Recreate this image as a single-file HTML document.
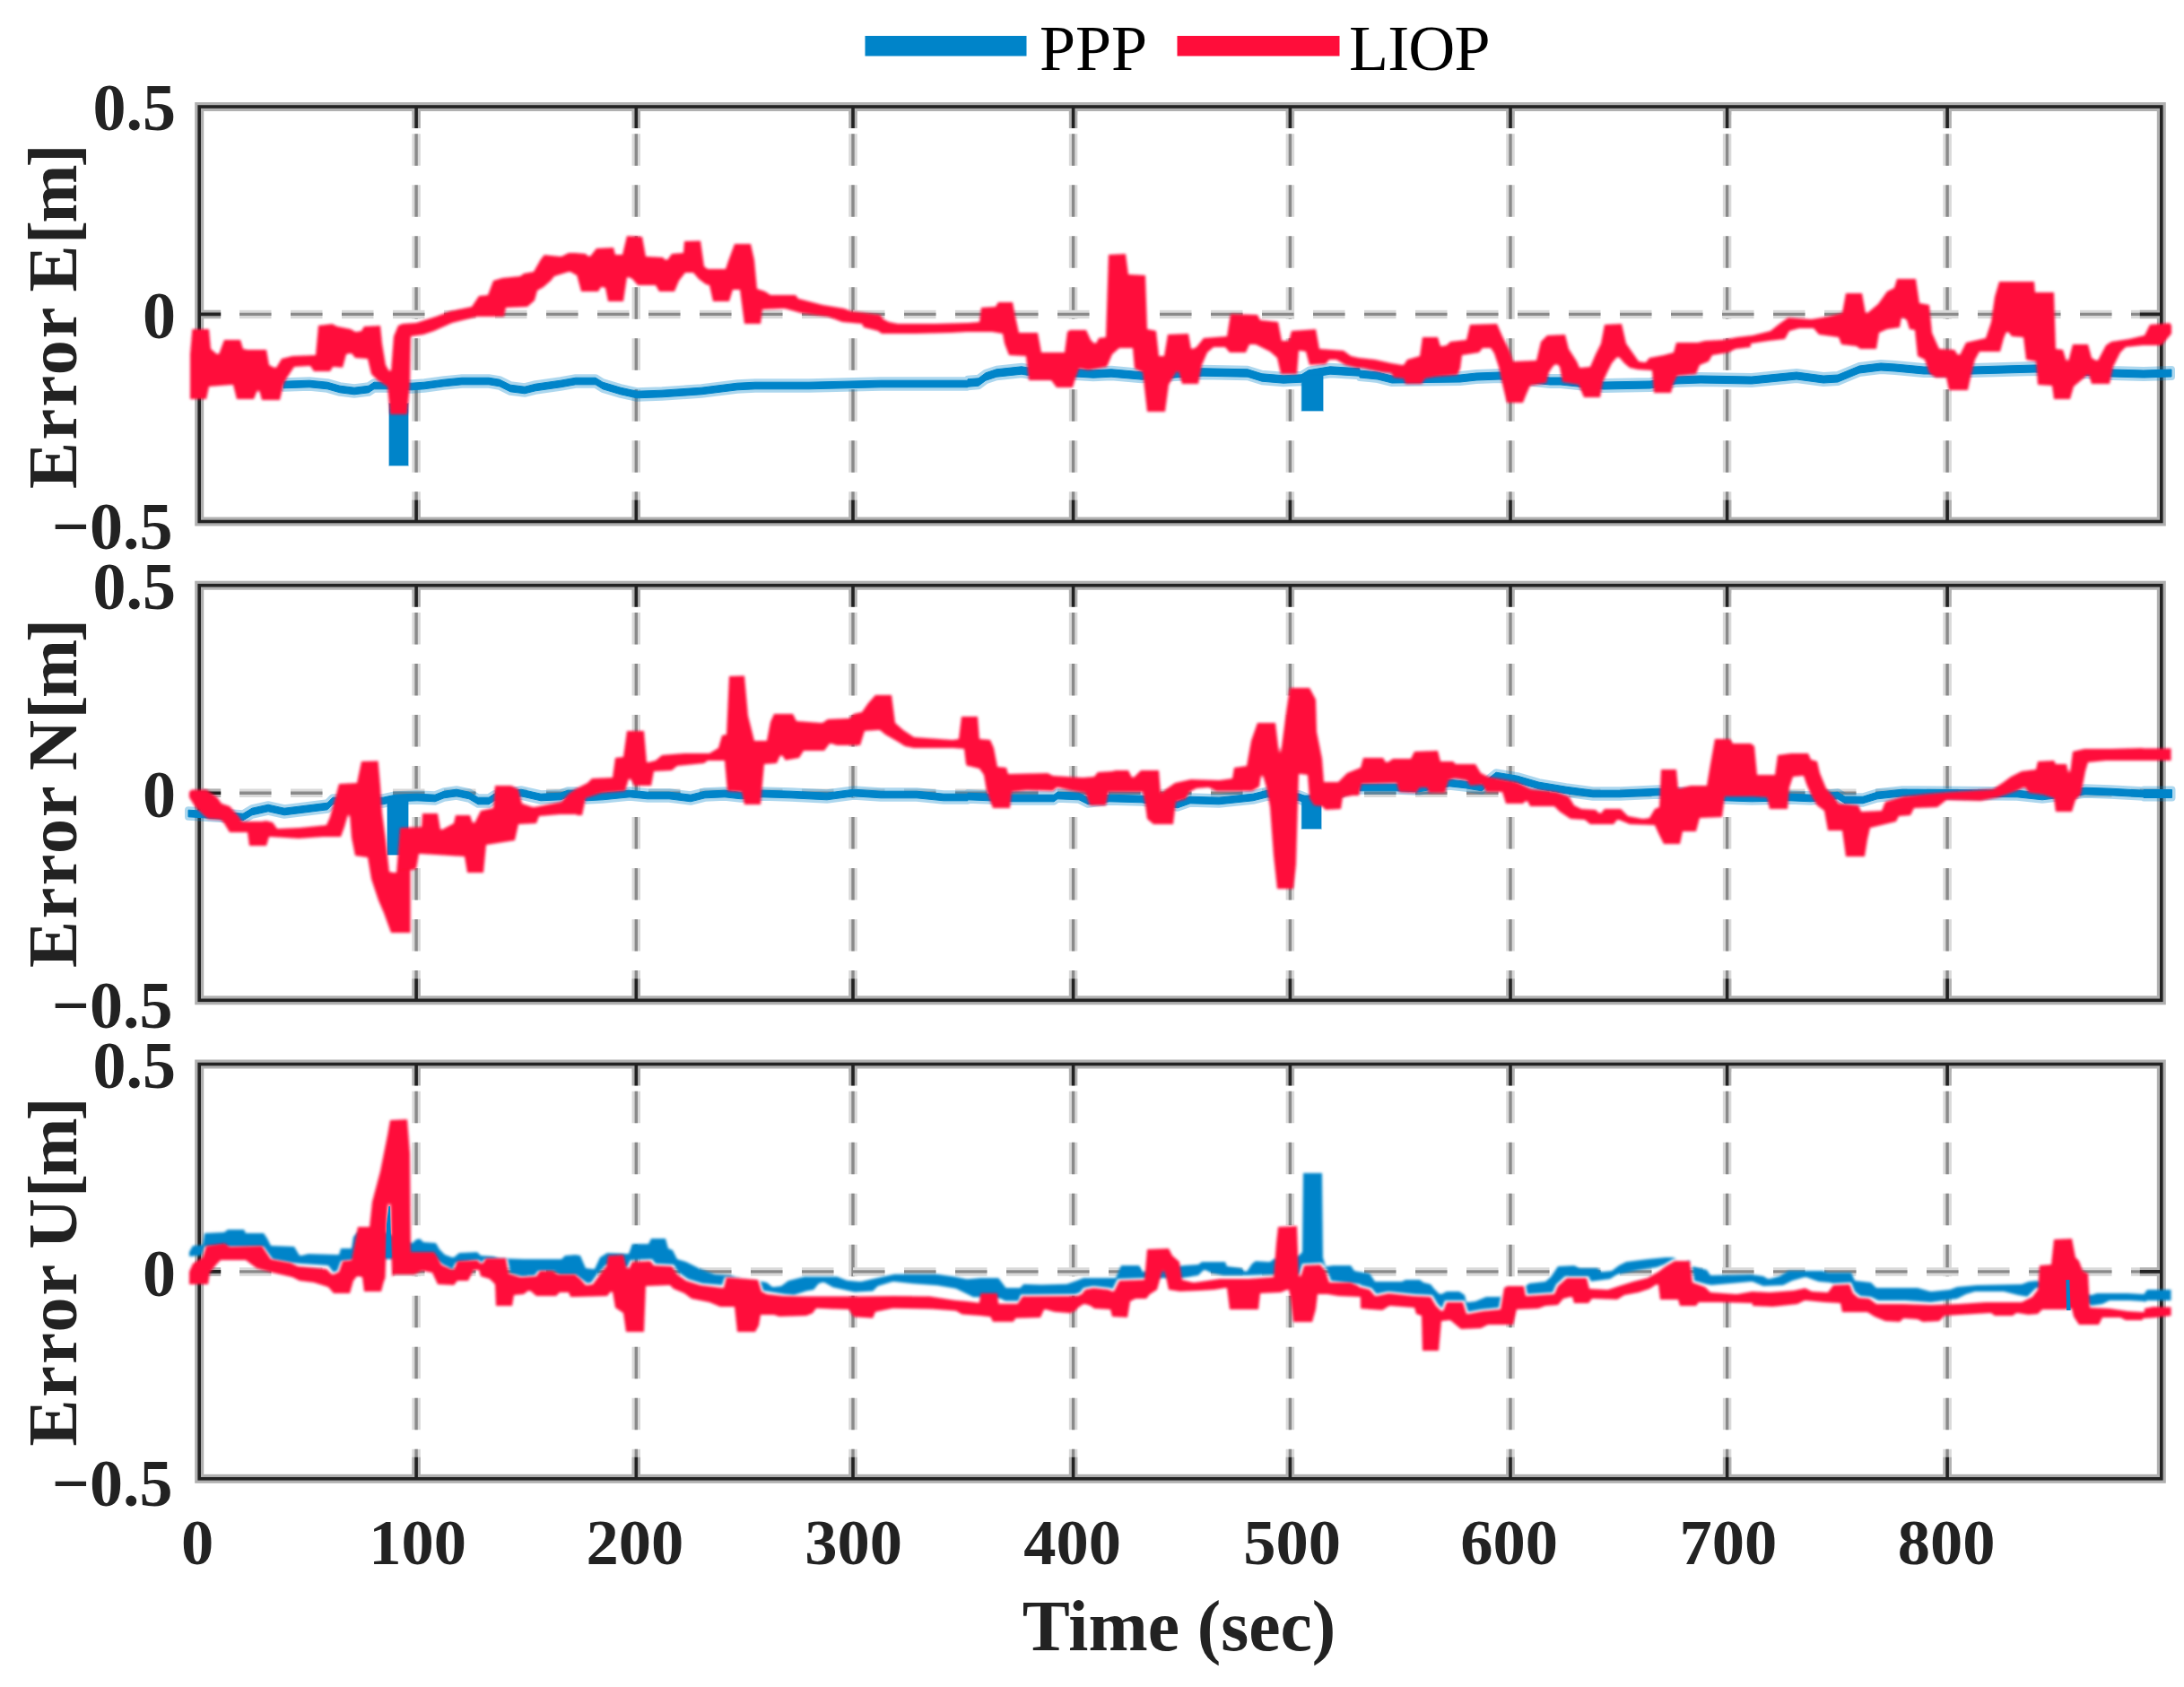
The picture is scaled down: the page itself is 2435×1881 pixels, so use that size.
<!DOCTYPE html>
<html lang="en"><head><meta charset="utf-8"><title>Position error: PPP vs LIOP</title>
<style>html,body{margin:0;padding:0;background:#fff}body{width:2435px;height:1881px;overflow:hidden}svg{display:block}text{font-family:"Liberation Serif",serif;fill:#222}.b{font-weight:bold}</style></head><body>
<svg width="2435" height="1881" viewBox="0 0 2435 1881">
<defs><filter id="soft" x="-2%" y="-10%" width="104%" height="120%"><feMorphology operator="erode" radius="1.4"/><feGaussianBlur stdDeviation="1.5"/></filter></defs>
<rect width="2435" height="1881" fill="#fff"/>
<g id="panel1">
<line x1="464.1" y1="119.0" x2="464.1" y2="581.5" stroke="#d9d9d9" stroke-width="9.5" stroke-dasharray="35.5 21.5" stroke-dashoffset="26.7"/><line x1="464.1" y1="119.0" x2="464.1" y2="581.5" stroke="#8a8a8a" stroke-width="3.4" stroke-dasharray="35.5 21.5" stroke-dashoffset="26.7"/>
<line x1="709.3" y1="119.0" x2="709.3" y2="581.5" stroke="#d9d9d9" stroke-width="9.5" stroke-dasharray="35.5 21.5" stroke-dashoffset="26.7"/><line x1="709.3" y1="119.0" x2="709.3" y2="581.5" stroke="#8a8a8a" stroke-width="3.4" stroke-dasharray="35.5 21.5" stroke-dashoffset="26.7"/>
<line x1="951.0" y1="119.0" x2="951.0" y2="581.5" stroke="#d9d9d9" stroke-width="9.5" stroke-dasharray="35.5 21.5" stroke-dashoffset="26.7"/><line x1="951.0" y1="119.0" x2="951.0" y2="581.5" stroke="#8a8a8a" stroke-width="3.4" stroke-dasharray="35.5 21.5" stroke-dashoffset="26.7"/>
<line x1="1196.6" y1="119.0" x2="1196.6" y2="581.5" stroke="#d9d9d9" stroke-width="9.5" stroke-dasharray="35.5 21.5" stroke-dashoffset="26.7"/><line x1="1196.6" y1="119.0" x2="1196.6" y2="581.5" stroke="#8a8a8a" stroke-width="3.4" stroke-dasharray="35.5 21.5" stroke-dashoffset="26.7"/>
<line x1="1438.4" y1="119.0" x2="1438.4" y2="581.5" stroke="#d9d9d9" stroke-width="9.5" stroke-dasharray="35.5 21.5" stroke-dashoffset="26.7"/><line x1="1438.4" y1="119.0" x2="1438.4" y2="581.5" stroke="#8a8a8a" stroke-width="3.4" stroke-dasharray="35.5 21.5" stroke-dashoffset="26.7"/>
<line x1="1684.0" y1="119.0" x2="1684.0" y2="581.5" stroke="#d9d9d9" stroke-width="9.5" stroke-dasharray="35.5 21.5" stroke-dashoffset="26.7"/><line x1="1684.0" y1="119.0" x2="1684.0" y2="581.5" stroke="#8a8a8a" stroke-width="3.4" stroke-dasharray="35.5 21.5" stroke-dashoffset="26.7"/>
<line x1="1925.6" y1="119.0" x2="1925.6" y2="581.5" stroke="#d9d9d9" stroke-width="9.5" stroke-dasharray="35.5 21.5" stroke-dashoffset="26.7"/><line x1="1925.6" y1="119.0" x2="1925.6" y2="581.5" stroke="#8a8a8a" stroke-width="3.4" stroke-dasharray="35.5 21.5" stroke-dashoffset="26.7"/>
<line x1="2171.1" y1="119.0" x2="2171.1" y2="581.5" stroke="#d9d9d9" stroke-width="9.5" stroke-dasharray="35.5 21.5" stroke-dashoffset="26.7"/><line x1="2171.1" y1="119.0" x2="2171.1" y2="581.5" stroke="#8a8a8a" stroke-width="3.4" stroke-dasharray="35.5 21.5" stroke-dashoffset="26.7"/>
<line x1="222.2" y1="350.4" x2="2409.8" y2="350.4" stroke="#d9d9d9" stroke-width="9.5" stroke-dasharray="35.5 21.5" stroke-dashoffset="12.2"/><line x1="222.2" y1="350.4" x2="2409.8" y2="350.4" stroke="#8a8a8a" stroke-width="3.4" stroke-dasharray="35.5 21.5" stroke-dashoffset="12.2"/>
<rect x="222.2" y="119.0" width="2187.6" height="462.5" fill="none" stroke="#b0b0b0" stroke-width="10"/>
<path d="M464.1 119.0L464.1 143.0 M464.1 581.5L464.1 557.5 M709.3 119.0L709.3 143.0 M709.3 581.5L709.3 557.5 M951.0 119.0L951.0 143.0 M951.0 581.5L951.0 557.5 M1196.6 119.0L1196.6 143.0 M1196.6 581.5L1196.6 557.5 M1438.4 119.0L1438.4 143.0 M1438.4 581.5L1438.4 557.5 M1684.0 119.0L1684.0 143.0 M1684.0 581.5L1684.0 557.5 M1925.6 119.0L1925.6 143.0 M1925.6 581.5L1925.6 557.5 M2171.1 119.0L2171.1 143.0 M2171.1 581.5L2171.1 557.5 M222.2 350.4L246.2 350.4 M2409.8 350.4L2385.8 350.4" fill="none" stroke="#b0b0b0" stroke-width="9.5"/>
<path d="M464.1 119.0L464.1 143.0 M464.1 581.5L464.1 557.5 M709.3 119.0L709.3 143.0 M709.3 581.5L709.3 557.5 M951.0 119.0L951.0 143.0 M951.0 581.5L951.0 557.5 M1196.6 119.0L1196.6 143.0 M1196.6 581.5L1196.6 557.5 M1438.4 119.0L1438.4 143.0 M1438.4 581.5L1438.4 557.5 M1684.0 119.0L1684.0 143.0 M1684.0 581.5L1684.0 557.5 M1925.6 119.0L1925.6 143.0 M1925.6 581.5L1925.6 557.5 M2171.1 119.0L2171.1 143.0 M2171.1 581.5L2171.1 557.5 M222.2 350.4L246.2 350.4 M2409.8 350.4L2385.8 350.4" fill="none" stroke="#222222" stroke-width="3.6"/>
<rect x="222.2" y="119.0" width="2187.6" height="462.5" fill="none" stroke="#222222" stroke-width="3.6"/>
<g class="data">
<polygon points="316.0,425.2 345.0,424.2 365.0,426.2 379.0,430.2 395.0,432.2 411.0,430.2 417.0,426.2 431.0,426.2 459.0,427.2 473.0,426.2 495.0,423.2 515.0,421.2 545.0,421.2 557.0,423.2 569.0,429.2 585.0,431.2 597.0,428.2 625.0,424.2 641.8,421.2 642.0,421.2 664.0,421.2 672.0,426.2 692.0,432.2 710.0,436.2 738.0,435.2 782.0,432.2 822.0,427.2 842.0,426.2 902.0,426.2 942.0,425.2 982.0,424.2 1078.8,424.2 1079.0,422.8 1091.0,421.8 1099.0,415.8 1111.0,411.8 1139.0,408.8 1145.0,409.8 1203.0,411.8 1219.0,412.8 1239.0,411.8 1273.0,414.8 1341.0,410.8 1391.0,411.8 1407.0,416.8 1431.0,418.8 1451.0,417.8 1459.0,412.8 1483.0,408.8 1515.8,410.8 1516.0,413.0 1536.0,415.0 1552.0,419.0 1628.0,418.0 1646.0,416.0 1672.0,415.0 1728.0,421.0 1740.0,421.0 1788.0,426.0 1840.0,425.0 1868.0,420.0 1896.0,419.0 1952.8,420.0 1953.0,420.0 1983.0,417.0 2003.0,415.0 2033.0,419.0 2049.0,418.0 2073.0,408.0 2097.0,405.0 2113.0,406.0 2145.0,409.0 2199.0,409.0 2269.0,407.0 2355.0,412.0 2389.8,413.0 2390.0,413.0 2421.0,412.0 2421.0,420.0 2390.0,421.0 2389.8,421.0 2355.0,420.0 2269.0,415.0 2199.0,417.0 2145.0,417.0 2113.0,414.0 2097.0,413.0 2073.0,416.0 2049.0,426.0 2033.0,427.0 2003.0,423.0 1983.0,425.0 1953.0,428.0 1952.8,428.0 1896.0,427.0 1868.0,428.0 1840.0,433.0 1788.0,434.0 1740.0,429.0 1728.0,429.0 1672.0,423.0 1646.0,424.0 1628.0,426.0 1552.0,427.0 1536.0,423.0 1516.0,421.0 1515.8,419.2 1483.0,417.2 1459.0,421.2 1451.0,426.2 1431.0,427.2 1407.0,425.2 1391.0,420.2 1341.0,419.2 1273.0,423.2 1239.0,420.2 1219.0,421.2 1203.0,420.2 1145.0,418.2 1139.0,417.2 1111.0,420.2 1099.0,424.2 1091.0,430.2 1079.0,431.2 1078.8,431.8 982.0,431.8 942.0,432.8 902.0,433.8 842.0,433.8 822.0,434.8 782.0,439.8 738.0,442.8 710.0,443.8 692.0,439.8 672.0,433.8 664.0,428.8 642.0,428.8 641.8,428.8 625.0,431.8 597.0,435.8 585.0,438.8 569.0,436.8 557.0,430.8 545.0,428.8 515.0,428.8 495.0,430.8 473.0,433.8 459.0,434.8 431.0,433.8 417.0,433.8 411.0,437.8 395.0,439.8 379.0,437.8 365.0,433.8 345.0,431.8 316.0,432.8" fill="none" stroke="#0084c9" stroke-opacity="0.32" stroke-width="8" stroke-linejoin="round"/>
<polygon points="316.0,425.2 345.0,424.2 365.0,426.2 379.0,430.2 395.0,432.2 411.0,430.2 417.0,426.2 431.0,426.2 459.0,427.2 473.0,426.2 495.0,423.2 515.0,421.2 545.0,421.2 557.0,423.2 569.0,429.2 585.0,431.2 597.0,428.2 625.0,424.2 641.8,421.2 642.0,421.2 664.0,421.2 672.0,426.2 692.0,432.2 710.0,436.2 738.0,435.2 782.0,432.2 822.0,427.2 842.0,426.2 902.0,426.2 942.0,425.2 982.0,424.2 1078.8,424.2 1079.0,422.8 1091.0,421.8 1099.0,415.8 1111.0,411.8 1139.0,408.8 1145.0,409.8 1203.0,411.8 1219.0,412.8 1239.0,411.8 1273.0,414.8 1341.0,410.8 1391.0,411.8 1407.0,416.8 1431.0,418.8 1451.0,417.8 1459.0,412.8 1483.0,408.8 1515.8,410.8 1516.0,413.0 1536.0,415.0 1552.0,419.0 1628.0,418.0 1646.0,416.0 1672.0,415.0 1728.0,421.0 1740.0,421.0 1788.0,426.0 1840.0,425.0 1868.0,420.0 1896.0,419.0 1952.8,420.0 1953.0,420.0 1983.0,417.0 2003.0,415.0 2033.0,419.0 2049.0,418.0 2073.0,408.0 2097.0,405.0 2113.0,406.0 2145.0,409.0 2199.0,409.0 2269.0,407.0 2355.0,412.0 2389.8,413.0 2390.0,413.0 2421.0,412.0 2421.0,420.0 2390.0,421.0 2389.8,421.0 2355.0,420.0 2269.0,415.0 2199.0,417.0 2145.0,417.0 2113.0,414.0 2097.0,413.0 2073.0,416.0 2049.0,426.0 2033.0,427.0 2003.0,423.0 1983.0,425.0 1953.0,428.0 1952.8,428.0 1896.0,427.0 1868.0,428.0 1840.0,433.0 1788.0,434.0 1740.0,429.0 1728.0,429.0 1672.0,423.0 1646.0,424.0 1628.0,426.0 1552.0,427.0 1536.0,423.0 1516.0,421.0 1515.8,419.2 1483.0,417.2 1459.0,421.2 1451.0,426.2 1431.0,427.2 1407.0,425.2 1391.0,420.2 1341.0,419.2 1273.0,423.2 1239.0,420.2 1219.0,421.2 1203.0,420.2 1145.0,418.2 1139.0,417.2 1111.0,420.2 1099.0,424.2 1091.0,430.2 1079.0,431.2 1078.8,431.8 982.0,431.8 942.0,432.8 902.0,433.8 842.0,433.8 822.0,434.8 782.0,439.8 738.0,442.8 710.0,443.8 692.0,439.8 672.0,433.8 664.0,428.8 642.0,428.8 641.8,428.8 625.0,431.8 597.0,435.8 585.0,438.8 569.0,436.8 557.0,430.8 545.0,428.8 515.0,428.8 495.0,430.8 473.0,433.8 459.0,434.8 431.0,433.8 417.0,433.8 411.0,437.8 395.0,439.8 379.0,437.8 365.0,433.8 345.0,431.8 316.0,432.8" fill="#0084c9" stroke="#0084c9" stroke-width="1" stroke-linejoin="round"/>
<polygon points="434.0,450.0 455.0,450.0 455.0,519.0 434.0,519.0" fill="#0084c9" stroke="#0084c9" stroke-opacity="0.5" stroke-width="1.5"/>
<polygon points="1451.4,418.0 1475.0,418.0 1475.0,458.0 1451.4,458.0" fill="#0084c9" stroke="#0084c9" stroke-opacity="0.5" stroke-width="1.5"/>
<g filter="url(#soft)" fill="#ff0d3a">
<polygon points="211.0,394.0 213.4,366.0 234.0,366.0 236.0,388.0 243.0,394.0 249.0,378.0 269.0,378.0 272.0,388.0 277.0,389.0 298.0,389.0 301.0,406.0 307.0,409.0 313.0,399.0 325.0,396.0 351.0,395.0 354.0,362.0 371.0,360.0 377.0,363.0 392.0,366.0 397.0,369.0 402.0,368.0 405.0,363.0 425.0,362.0 427.0,382.0 431.0,406.0 435.0,413.0 438.0,374.0 443.0,362.0 448.0,360.0 463.0,359.0 485.0,352.0 501.0,346.0 525.0,341.0 533.0,329.0 543.0,328.0 549.0,312.0 559.0,309.0 579.0,307.0 583.0,304.0 594.0,302.0 602.0,288.0 606.0,283.0 625.0,285.0 633.0,281.0 641.8,281.0 642.0,281.0 654.0,282.0 657.0,285.0 664.0,276.0 685.0,275.0 687.0,283.0 693.0,283.0 698.0,262.0 717.0,263.0 721.0,285.0 740.0,286.0 743.0,289.0 748.0,282.0 761.0,281.0 762.0,268.0 782.0,267.6 786.0,296.0 790.0,299.0 808.0,299.0 811.0,290.0 818.0,271.0 838.0,271.0 842.0,289.0 845.0,321.0 854.0,324.0 860.0,328.0 888.0,328.0 891.0,332.0 918.0,339.0 942.0,343.0 950.0,346.0 982.0,350.0 986.0,355.0 992.0,358.0 1002.0,360.0 1042.0,360.0 1078.8,359.0 1079.0,359.0 1091.0,358.0 1093.0,342.0 1109.0,341.0 1112.0,336.0 1130.0,336.0 1133.0,352.0 1137.0,370.0 1158.0,370.0 1162.0,392.0 1186.0,392.0 1189.0,369.0 1192.0,367.0 1212.0,367.0 1217.0,378.0 1221.0,382.0 1224.0,376.0 1232.0,375.0 1235.0,283.0 1256.0,282.0 1259.0,305.0 1278.0,306.0 1280.0,366.0 1290.0,368.0 1293.0,396.0 1297.0,396.0 1301.0,372.0 1326.0,371.0 1329.0,388.0 1333.0,386.0 1341.0,376.0 1367.0,374.0 1371.0,349.0 1403.0,350.0 1406.0,356.0 1426.0,358.0 1430.0,379.0 1436.0,379.0 1439.0,368.0 1468.0,366.0 1472.0,388.0 1499.0,390.0 1507.0,396.0 1515.8,398.0 1516.0,398.0 1534.0,400.0 1552.0,404.0 1564.0,406.0 1568.0,400.0 1582.0,396.0 1585.0,375.0 1604.0,375.0 1607.0,385.0 1612.0,384.0 1616.0,380.0 1634.0,378.0 1638.0,361.0 1670.0,360.0 1676.0,374.0 1684.0,390.0 1688.0,402.0 1712.0,401.0 1717.0,380.0 1724.0,373.0 1746.0,372.0 1750.0,388.0 1759.0,402.0 1762.0,409.0 1772.0,408.0 1778.0,394.0 1784.0,382.0 1788.0,361.0 1809.0,360.0 1814.0,382.0 1828.0,402.0 1834.0,403.0 1838.0,398.0 1854.0,395.0 1865.0,392.0 1868.0,381.0 1892.0,381.0 1900.0,379.0 1920.0,378.0 1936.0,375.0 1952.8,373.0 1953.0,373.0 1973.0,368.0 1983.0,360.0 1993.0,353.0 2019.0,355.0 2037.0,352.0 2053.0,348.0 2057.0,326.0 2077.0,326.0 2081.0,348.0 2093.0,338.0 2103.0,324.0 2111.0,320.0 2114.0,310.0 2137.0,310.0 2141.0,337.0 2152.0,339.0 2155.0,370.0 2163.0,388.0 2180.0,389.0 2184.0,395.0 2191.0,381.0 2213.0,376.0 2219.0,358.0 2223.0,330.0 2228.0,313.0 2269.0,313.0 2270.0,325.0 2291.0,325.0 2293.0,388.0 2301.0,389.0 2305.0,402.0 2310.0,383.0 2329.0,383.0 2333.0,398.0 2338.0,401.0 2347.0,384.0 2353.0,380.0 2373.0,377.0 2389.8,373.0 2390.0,373.0 2396.0,361.0 2420.0,359.0 2422.0,362.0 2422.0,373.0 2411.0,386.0 2390.0,386.0 2389.8,386.0 2371.0,388.0 2365.0,394.0 2357.0,410.0 2353.0,429.0 2331.0,429.0 2328.0,419.0 2325.0,422.0 2313.0,432.0 2309.0,446.0 2289.0,446.0 2287.0,431.0 2271.0,430.0 2269.0,404.0 2258.0,402.0 2255.0,377.0 2242.0,376.0 2238.0,371.0 2235.0,378.0 2231.0,393.0 2208.0,393.0 2203.0,402.0 2198.0,422.0 2195.0,436.0 2172.0,436.0 2169.0,422.0 2157.0,422.0 2150.0,417.0 2145.0,402.0 2137.0,398.0 2134.0,369.0 2128.0,368.0 2125.0,358.0 2121.0,355.0 2119.0,366.0 2105.0,368.0 2096.0,372.0 2093.0,390.0 2073.0,390.0 2069.0,387.0 2052.0,385.0 2049.0,377.0 2027.0,374.0 2021.0,367.0 2007.0,367.0 1996.0,370.0 1991.0,379.0 1973.0,381.0 1953.0,384.0 1952.8,388.0 1936.0,390.0 1928.0,394.0 1910.0,397.0 1906.0,404.0 1896.0,408.0 1892.0,418.0 1871.0,420.0 1867.0,428.0 1864.0,439.0 1843.0,439.0 1841.0,414.0 1825.0,413.0 1816.0,411.0 1810.0,406.0 1804.0,399.0 1798.0,406.0 1793.0,416.0 1788.0,427.0 1785.0,444.0 1765.0,444.0 1759.0,430.0 1741.0,427.0 1738.0,410.0 1735.0,407.0 1732.0,410.0 1728.0,416.0 1725.0,428.0 1707.0,431.0 1703.0,440.0 1699.0,450.0 1679.0,450.0 1674.0,429.0 1670.0,410.0 1665.0,395.0 1661.0,389.0 1654.0,389.0 1650.0,394.0 1631.0,397.0 1629.0,412.0 1626.0,419.0 1602.0,421.0 1590.0,423.0 1586.0,429.0 1566.0,429.0 1564.0,423.0 1553.0,422.0 1550.0,417.0 1540.0,416.0 1516.0,411.0 1515.8,412.0 1499.0,408.0 1489.0,402.0 1483.0,402.0 1479.0,407.0 1459.0,408.0 1455.0,393.0 1449.0,392.0 1447.0,418.0 1427.0,418.0 1423.0,400.0 1415.0,393.0 1399.0,385.0 1394.0,385.0 1390.0,394.0 1370.0,394.0 1365.0,388.0 1354.0,388.0 1347.0,394.0 1341.0,408.0 1337.0,429.0 1317.0,429.0 1313.0,415.0 1304.0,430.0 1300.0,460.0 1278.0,460.0 1273.0,416.0 1264.0,412.0 1262.0,389.0 1249.0,389.0 1241.0,396.0 1235.0,410.0 1213.0,414.0 1204.0,412.0 1200.0,423.0 1197.0,433.0 1177.0,433.0 1171.0,425.0 1146.0,425.0 1143.0,398.0 1124.0,397.0 1119.0,384.0 1117.0,373.0 1105.0,371.0 1079.0,371.0 1078.8,371.0 1062.0,372.0 1022.0,373.0 982.0,373.0 978.0,370.0 962.0,366.0 960.0,362.0 938.0,360.0 922.0,354.0 892.0,350.0 874.0,345.0 851.0,346.0 849.0,362.0 829.0,362.0 824.0,324.0 818.0,324.0 814.0,337.0 794.0,337.0 790.0,319.0 786.0,318.0 778.0,312.0 772.0,305.0 765.0,305.0 758.0,314.0 753.0,326.0 734.0,326.0 730.0,319.0 710.0,319.0 704.0,312.0 700.0,310.0 696.0,337.0 677.0,337.0 674.0,322.0 671.0,321.0 668.0,326.0 647.0,326.0 642.0,307.0 641.8,308.0 635.0,304.0 619.0,309.0 615.0,314.0 607.0,321.0 600.0,325.0 597.0,336.0 589.0,343.0 565.0,344.0 563.0,354.0 533.0,354.0 517.0,358.0 505.0,361.0 485.0,370.0 473.0,374.0 459.0,376.0 458.0,430.0 455.0,463.0 434.0,463.0 431.0,432.0 420.0,425.0 413.0,418.0 409.0,401.0 395.0,400.0 391.0,395.0 387.0,396.0 383.0,411.0 372.0,410.0 369.0,415.0 349.0,415.0 345.0,409.0 329.0,410.0 321.0,422.0 317.0,430.0 313.0,447.0 291.0,447.0 288.0,436.0 284.0,446.0 263.0,446.0 259.0,430.0 234.0,432.0 231.0,446.0 211.0,446.0"/>
</g>
</g>
<text class="b" x="196" y="145.2" font-size="74" text-anchor="end">0.5</text>
<text class="b" x="196" y="377.2" font-size="74" text-anchor="end">0</text>
<text class="b" x="192.5" y="611.7" font-size="74" text-anchor="end">−0.5</text>
<text class="b" font-size="78" dx="0 2.5 2.5 2 2 0 -1 1.5 -2.5 -3" transform="translate(85.2 545.1) rotate(-90)">Error E[m]</text>
</g>
<g id="panel2">
<line x1="464.1" y1="652.7" x2="464.1" y2="1115.3" stroke="#d9d9d9" stroke-width="9.5" stroke-dasharray="35.5 21.5" stroke-dashoffset="26.7"/><line x1="464.1" y1="652.7" x2="464.1" y2="1115.3" stroke="#8a8a8a" stroke-width="3.4" stroke-dasharray="35.5 21.5" stroke-dashoffset="26.7"/>
<line x1="709.3" y1="652.7" x2="709.3" y2="1115.3" stroke="#d9d9d9" stroke-width="9.5" stroke-dasharray="35.5 21.5" stroke-dashoffset="26.7"/><line x1="709.3" y1="652.7" x2="709.3" y2="1115.3" stroke="#8a8a8a" stroke-width="3.4" stroke-dasharray="35.5 21.5" stroke-dashoffset="26.7"/>
<line x1="951.0" y1="652.7" x2="951.0" y2="1115.3" stroke="#d9d9d9" stroke-width="9.5" stroke-dasharray="35.5 21.5" stroke-dashoffset="26.7"/><line x1="951.0" y1="652.7" x2="951.0" y2="1115.3" stroke="#8a8a8a" stroke-width="3.4" stroke-dasharray="35.5 21.5" stroke-dashoffset="26.7"/>
<line x1="1196.6" y1="652.7" x2="1196.6" y2="1115.3" stroke="#d9d9d9" stroke-width="9.5" stroke-dasharray="35.5 21.5" stroke-dashoffset="26.7"/><line x1="1196.6" y1="652.7" x2="1196.6" y2="1115.3" stroke="#8a8a8a" stroke-width="3.4" stroke-dasharray="35.5 21.5" stroke-dashoffset="26.7"/>
<line x1="1438.4" y1="652.7" x2="1438.4" y2="1115.3" stroke="#d9d9d9" stroke-width="9.5" stroke-dasharray="35.5 21.5" stroke-dashoffset="26.7"/><line x1="1438.4" y1="652.7" x2="1438.4" y2="1115.3" stroke="#8a8a8a" stroke-width="3.4" stroke-dasharray="35.5 21.5" stroke-dashoffset="26.7"/>
<line x1="1684.0" y1="652.7" x2="1684.0" y2="1115.3" stroke="#d9d9d9" stroke-width="9.5" stroke-dasharray="35.5 21.5" stroke-dashoffset="26.7"/><line x1="1684.0" y1="652.7" x2="1684.0" y2="1115.3" stroke="#8a8a8a" stroke-width="3.4" stroke-dasharray="35.5 21.5" stroke-dashoffset="26.7"/>
<line x1="1925.6" y1="652.7" x2="1925.6" y2="1115.3" stroke="#d9d9d9" stroke-width="9.5" stroke-dasharray="35.5 21.5" stroke-dashoffset="26.7"/><line x1="1925.6" y1="652.7" x2="1925.6" y2="1115.3" stroke="#8a8a8a" stroke-width="3.4" stroke-dasharray="35.5 21.5" stroke-dashoffset="26.7"/>
<line x1="2171.1" y1="652.7" x2="2171.1" y2="1115.3" stroke="#d9d9d9" stroke-width="9.5" stroke-dasharray="35.5 21.5" stroke-dashoffset="26.7"/><line x1="2171.1" y1="652.7" x2="2171.1" y2="1115.3" stroke="#8a8a8a" stroke-width="3.4" stroke-dasharray="35.5 21.5" stroke-dashoffset="26.7"/>
<line x1="222.2" y1="884.2" x2="2409.8" y2="884.2" stroke="#d9d9d9" stroke-width="9.5" stroke-dasharray="35.5 21.5" stroke-dashoffset="12.2"/><line x1="222.2" y1="884.2" x2="2409.8" y2="884.2" stroke="#8a8a8a" stroke-width="3.4" stroke-dasharray="35.5 21.5" stroke-dashoffset="12.2"/>
<rect x="222.2" y="652.7" width="2187.6" height="462.6" fill="none" stroke="#b0b0b0" stroke-width="10"/>
<path d="M464.1 652.7L464.1 676.7 M464.1 1115.3L464.1 1091.3 M709.3 652.7L709.3 676.7 M709.3 1115.3L709.3 1091.3 M951.0 652.7L951.0 676.7 M951.0 1115.3L951.0 1091.3 M1196.6 652.7L1196.6 676.7 M1196.6 1115.3L1196.6 1091.3 M1438.4 652.7L1438.4 676.7 M1438.4 1115.3L1438.4 1091.3 M1684.0 652.7L1684.0 676.7 M1684.0 1115.3L1684.0 1091.3 M1925.6 652.7L1925.6 676.7 M1925.6 1115.3L1925.6 1091.3 M2171.1 652.7L2171.1 676.7 M2171.1 1115.3L2171.1 1091.3 M222.2 884.2L246.2 884.2 M2409.8 884.2L2385.8 884.2" fill="none" stroke="#b0b0b0" stroke-width="9.5"/>
<path d="M464.1 652.7L464.1 676.7 M464.1 1115.3L464.1 1091.3 M709.3 652.7L709.3 676.7 M709.3 1115.3L709.3 1091.3 M951.0 652.7L951.0 676.7 M951.0 1115.3L951.0 1091.3 M1196.6 652.7L1196.6 676.7 M1196.6 1115.3L1196.6 1091.3 M1438.4 652.7L1438.4 676.7 M1438.4 1115.3L1438.4 1091.3 M1684.0 652.7L1684.0 676.7 M1684.0 1115.3L1684.0 1091.3 M1925.6 652.7L1925.6 676.7 M1925.6 1115.3L1925.6 1091.3 M2171.1 652.7L2171.1 676.7 M2171.1 1115.3L2171.1 1091.3 M222.2 884.2L246.2 884.2 M2409.8 884.2L2385.8 884.2" fill="none" stroke="#222222" stroke-width="3.6"/>
<rect x="222.2" y="652.7" width="2187.6" height="462.6" fill="none" stroke="#222222" stroke-width="3.6"/>
<g class="data">
<polygon points="210.0,903.2 227.0,904.2 271.0,907.2 281.0,901.2 299.0,897.2 317.0,901.2 333.0,899.2 349.0,897.2 365.0,895.2 371.0,889.2 427.0,889.2 441.0,886.2 465.0,885.2 485.0,886.2 495.0,882.2 509.0,880.2 523.0,883.2 533.0,889.2 545.0,889.2 551.0,885.2 581.0,880.2 603.0,885.2 625.0,884.2 633.0,881.2 641.8,881.2 642.0,881.2 654.0,885.2 672.0,884.2 702.0,881.2 722.0,883.2 746.0,883.2 770.0,886.2 786.0,882.2 808.0,881.2 826.0,883.2 850.0,881.2 882.0,882.2 922.0,884.2 952.0,880.2 982.0,882.2 1022.0,882.2 1052.0,885.2 1078.8,885.2 1079.0,884.2 1103.0,885.2 1129.0,886.2 1175.0,886.2 1179.0,883.2 1203.0,884.2 1213.0,889.2 1237.0,886.2 1273.0,887.2 1313.0,893.2 1327.0,888.2 1359.0,889.2 1397.0,885.2 1413.0,881.2 1449.0,885.2 1459.0,889.2 1479.0,885.2 1515.8,869.2 1516.0,874.2 1556.0,874.2 1582.0,875.2 1616.0,869.2 1634.0,871.2 1652.0,874.2 1668.0,861.2 1692.0,865.2 1716.0,872.2 1746.0,877.2 1776.0,881.2 1806.0,881.2 1849.0,879.2 1924.0,885.2 1952.8,886.2 1953.0,886.2 1996.0,885.2 2019.0,886.2 2049.0,883.2 2057.0,888.2 2077.0,888.2 2093.0,883.2 2121.0,880.2 2137.0,880.2 2249.0,881.2 2277.0,884.2 2325.0,878.2 2353.0,879.2 2389.8,881.2 2390.0,880.5 2421.5,880.5 2421.5,889.5 2390.0,889.5 2389.8,888.8 2353.0,886.8 2325.0,885.8 2277.0,891.8 2249.0,888.8 2137.0,887.8 2121.0,887.8 2093.0,890.8 2077.0,895.8 2057.0,895.8 2049.0,890.8 2019.0,893.8 1996.0,892.8 1953.0,893.8 1952.8,893.8 1924.0,892.8 1849.0,886.8 1806.0,888.8 1776.0,888.8 1746.0,884.8 1716.0,879.8 1692.0,872.8 1668.0,868.8 1652.0,881.8 1634.0,878.8 1616.0,876.8 1582.0,882.8 1556.0,881.8 1516.0,881.8 1515.8,876.8 1479.0,892.8 1459.0,896.8 1449.0,892.8 1413.0,888.8 1397.0,892.8 1359.0,896.8 1327.0,895.8 1313.0,900.8 1273.0,894.8 1237.0,893.8 1213.0,896.8 1203.0,891.8 1179.0,890.8 1175.0,893.8 1129.0,893.8 1103.0,892.8 1079.0,891.8 1078.8,892.8 1052.0,892.8 1022.0,889.8 982.0,889.8 952.0,887.8 922.0,891.8 882.0,889.8 850.0,888.8 826.0,890.8 808.0,888.8 786.0,889.8 770.0,893.8 746.0,890.8 722.0,890.8 702.0,888.8 672.0,891.8 654.0,892.8 642.0,888.8 641.8,888.8 633.0,888.8 625.0,891.8 603.0,892.8 581.0,887.8 551.0,892.8 545.0,896.8 533.0,896.8 523.0,890.8 509.0,887.8 495.0,889.8 485.0,893.8 465.0,892.8 441.0,893.8 427.0,896.8 371.0,896.8 365.0,902.8 349.0,904.8 333.0,906.8 317.0,908.8 299.0,904.8 281.0,908.8 271.0,914.8 227.0,911.8 210.0,910.8" fill="none" stroke="#0084c9" stroke-opacity="0.32" stroke-width="8" stroke-linejoin="round"/>
<polygon points="210.0,903.2 227.0,904.2 271.0,907.2 281.0,901.2 299.0,897.2 317.0,901.2 333.0,899.2 349.0,897.2 365.0,895.2 371.0,889.2 427.0,889.2 441.0,886.2 465.0,885.2 485.0,886.2 495.0,882.2 509.0,880.2 523.0,883.2 533.0,889.2 545.0,889.2 551.0,885.2 581.0,880.2 603.0,885.2 625.0,884.2 633.0,881.2 641.8,881.2 642.0,881.2 654.0,885.2 672.0,884.2 702.0,881.2 722.0,883.2 746.0,883.2 770.0,886.2 786.0,882.2 808.0,881.2 826.0,883.2 850.0,881.2 882.0,882.2 922.0,884.2 952.0,880.2 982.0,882.2 1022.0,882.2 1052.0,885.2 1078.8,885.2 1079.0,884.2 1103.0,885.2 1129.0,886.2 1175.0,886.2 1179.0,883.2 1203.0,884.2 1213.0,889.2 1237.0,886.2 1273.0,887.2 1313.0,893.2 1327.0,888.2 1359.0,889.2 1397.0,885.2 1413.0,881.2 1449.0,885.2 1459.0,889.2 1479.0,885.2 1515.8,869.2 1516.0,874.2 1556.0,874.2 1582.0,875.2 1616.0,869.2 1634.0,871.2 1652.0,874.2 1668.0,861.2 1692.0,865.2 1716.0,872.2 1746.0,877.2 1776.0,881.2 1806.0,881.2 1849.0,879.2 1924.0,885.2 1952.8,886.2 1953.0,886.2 1996.0,885.2 2019.0,886.2 2049.0,883.2 2057.0,888.2 2077.0,888.2 2093.0,883.2 2121.0,880.2 2137.0,880.2 2249.0,881.2 2277.0,884.2 2325.0,878.2 2353.0,879.2 2389.8,881.2 2390.0,880.5 2421.5,880.5 2421.5,889.5 2390.0,889.5 2389.8,888.8 2353.0,886.8 2325.0,885.8 2277.0,891.8 2249.0,888.8 2137.0,887.8 2121.0,887.8 2093.0,890.8 2077.0,895.8 2057.0,895.8 2049.0,890.8 2019.0,893.8 1996.0,892.8 1953.0,893.8 1952.8,893.8 1924.0,892.8 1849.0,886.8 1806.0,888.8 1776.0,888.8 1746.0,884.8 1716.0,879.8 1692.0,872.8 1668.0,868.8 1652.0,881.8 1634.0,878.8 1616.0,876.8 1582.0,882.8 1556.0,881.8 1516.0,881.8 1515.8,876.8 1479.0,892.8 1459.0,896.8 1449.0,892.8 1413.0,888.8 1397.0,892.8 1359.0,896.8 1327.0,895.8 1313.0,900.8 1273.0,894.8 1237.0,893.8 1213.0,896.8 1203.0,891.8 1179.0,890.8 1175.0,893.8 1129.0,893.8 1103.0,892.8 1079.0,891.8 1078.8,892.8 1052.0,892.8 1022.0,889.8 982.0,889.8 952.0,887.8 922.0,891.8 882.0,889.8 850.0,888.8 826.0,890.8 808.0,888.8 786.0,889.8 770.0,893.8 746.0,890.8 722.0,890.8 702.0,888.8 672.0,891.8 654.0,892.8 642.0,888.8 641.8,888.8 633.0,888.8 625.0,891.8 603.0,892.8 581.0,887.8 551.0,892.8 545.0,896.8 533.0,896.8 523.0,890.8 509.0,887.8 495.0,889.8 485.0,893.8 465.0,892.8 441.0,893.8 427.0,896.8 371.0,896.8 365.0,902.8 349.0,904.8 333.0,906.8 317.0,908.8 299.0,904.8 281.0,908.8 271.0,914.8 227.0,911.8 210.0,910.8" fill="#0084c9" stroke="#0084c9" stroke-width="1" stroke-linejoin="round"/>
<polygon points="432.0,889.0 455.0,889.0 455.0,953.0 432.0,953.0" fill="#0084c9" stroke="#0084c9" stroke-opacity="0.5" stroke-width="1.5"/>
<polygon points="1451.4,887.0 1473.0,887.0 1473.0,924.0 1451.4,924.0" fill="#0084c9" stroke="#0084c9" stroke-opacity="0.5" stroke-width="1.5"/>
<g filter="url(#soft)" fill="#ff0d3a">
<polygon points="441.0,973.0 445.0,922.0 469.0,921.0 470.0,906.0 489.0,906.0 492.0,924.0 505.0,917.0 507.0,908.0 525.0,908.0 528.0,917.0 535.0,903.0 549.0,900.0 551.0,875.0 571.0,875.0 579.0,879.0 583.0,895.0 595.0,899.0 625.0,893.0 633.0,884.0 641.8,878.0 642.0,878.0 654.0,872.0 659.0,867.0 682.0,866.0 685.0,844.0 694.0,843.0 698.0,814.0 719.0,814.0 722.0,849.0 730.0,847.0 737.0,841.0 762.0,839.0 790.0,839.0 800.0,833.0 804.0,819.0 809.0,818.0 812.0,753.0 831.0,752.6 835.0,797.0 842.0,825.0 854.0,825.0 858.0,804.0 862.0,795.0 885.0,795.0 889.0,803.0 916.0,805.0 922.0,801.0 946.0,800.0 951.0,795.0 960.0,793.0 967.0,783.0 975.0,774.0 995.0,774.0 999.0,805.0 1008.0,813.0 1020.0,821.0 1062.0,824.0 1068.0,823.0 1071.0,798.0 1078.8,798.0 1079.0,798.0 1091.0,798.0 1093.0,823.0 1105.0,824.0 1109.0,833.0 1113.0,854.0 1123.0,855.0 1125.0,862.0 1169.0,861.0 1175.0,864.0 1207.0,866.0 1219.0,865.0 1223.0,860.0 1239.0,859.0 1243.0,858.0 1259.0,858.0 1263.0,866.0 1271.0,858.0 1293.0,858.0 1295.0,883.0 1299.0,879.0 1309.0,872.0 1327.0,868.0 1359.0,869.0 1373.0,867.0 1375.0,855.0 1389.0,853.0 1394.0,825.0 1401.0,805.0 1423.0,805.0 1427.0,839.0 1433.0,793.0 1437.0,766.0 1461.0,766.0 1468.0,779.0 1469.0,815.0 1475.0,845.0 1477.0,871.0 1491.0,871.0 1501.0,861.0 1515.8,855.0 1516.0,855.0 1519.0,844.0 1543.0,844.0 1546.0,849.0 1552.0,845.0 1572.0,845.0 1576.0,837.0 1604.0,836.0 1607.0,848.0 1621.0,848.0 1624.0,851.0 1646.0,851.0 1652.0,861.0 1660.0,865.0 1692.0,871.0 1708.0,879.0 1736.0,882.0 1750.0,887.0 1756.0,897.0 1764.0,901.0 1780.0,902.0 1784.0,906.0 1788.0,901.0 1808.0,901.0 1816.0,909.0 1832.0,912.0 1838.0,911.0 1844.0,901.0 1849.0,899.0 1851.0,857.0 1870.0,857.0 1872.0,878.0 1884.0,875.0 1902.0,875.0 1906.0,851.0 1911.0,823.0 1930.0,823.0 1933.0,828.0 1952.8,828.0 1953.0,828.0 1957.0,831.0 1960.0,863.0 1978.0,863.0 1981.0,841.0 1996.0,839.0 2017.0,839.0 2020.0,846.0 2027.0,848.0 2030.0,861.0 2037.0,878.0 2045.0,887.0 2051.0,895.0 2073.0,897.0 2076.0,904.0 2097.0,903.0 2101.0,893.0 2121.0,887.0 2149.0,884.0 2173.0,882.0 2221.0,879.0 2233.0,871.0 2241.0,865.0 2253.0,859.0 2269.0,857.0 2271.0,848.0 2291.0,847.0 2293.0,851.0 2305.0,851.0 2307.0,861.0 2310.0,837.0 2323.0,834.0 2353.0,834.0 2389.8,833.0 2390.0,833.5 2421.5,833.5 2421.5,849.0 2390.0,849.0 2389.8,849.0 2349.0,849.0 2329.0,851.0 2326.0,861.0 2321.0,887.0 2315.0,893.0 2311.0,906.0 2291.0,906.0 2289.0,891.0 2277.0,887.0 2261.0,885.0 2257.0,879.0 2249.0,883.0 2229.0,890.0 2209.0,894.0 2171.0,893.0 2161.0,901.0 2135.0,902.0 2131.0,910.0 2118.0,911.0 2115.0,917.0 2086.0,924.0 2083.0,937.0 2080.0,956.0 2057.0,956.0 2053.0,927.0 2037.0,927.0 2033.0,905.0 2025.0,899.0 2019.0,889.0 2013.0,875.0 2010.0,866.0 2000.0,867.0 1996.0,879.0 1994.0,903.0 1972.0,903.0 1969.0,890.0 1953.0,889.0 1952.8,889.0 1924.0,889.0 1921.0,912.0 1896.0,913.0 1892.0,928.0 1877.0,928.0 1874.0,942.0 1854.0,942.0 1848.0,930.0 1844.0,921.0 1816.0,920.0 1804.0,915.0 1800.0,920.0 1772.0,920.0 1766.0,915.0 1750.0,914.0 1738.0,906.0 1732.0,900.0 1705.0,900.0 1702.0,894.0 1699.0,897.0 1678.0,897.0 1674.0,884.0 1656.0,884.0 1652.0,876.0 1638.0,877.0 1634.0,871.0 1622.0,869.0 1616.0,871.0 1612.0,885.0 1592.0,885.0 1590.0,879.0 1584.0,879.0 1580.0,885.0 1559.0,884.0 1556.0,874.0 1519.0,875.0 1516.0,888.0 1515.8,888.0 1509.0,888.0 1498.0,890.0 1496.0,903.0 1477.0,904.0 1473.0,900.0 1464.0,899.0 1459.0,891.0 1457.0,865.0 1449.0,864.0 1448.0,895.0 1446.0,965.0 1443.0,992.0 1423.0,992.0 1419.0,955.0 1415.0,901.0 1411.0,879.0 1407.0,865.0 1405.0,878.0 1397.0,883.0 1355.0,883.0 1347.0,879.0 1335.0,880.0 1327.0,884.0 1323.0,892.0 1312.0,895.0 1309.0,920.0 1285.0,920.0 1278.0,914.0 1276.0,899.0 1273.0,884.0 1237.0,884.0 1234.0,899.0 1214.0,899.0 1209.0,885.0 1191.0,882.0 1179.0,879.0 1175.0,883.0 1145.0,882.0 1129.0,884.0 1127.0,902.0 1106.0,902.0 1099.0,883.0 1096.0,865.0 1091.0,858.0 1079.0,855.0 1078.8,857.0 1076.0,853.0 1074.0,836.0 1062.0,835.0 1018.0,835.0 1008.0,833.0 1000.0,828.0 986.0,820.0 980.0,815.0 965.0,816.0 960.0,832.0 932.0,832.0 926.0,830.0 920.0,838.0 897.0,838.0 892.0,846.0 875.0,849.0 871.0,843.0 867.0,852.0 853.0,853.0 851.0,875.0 849.0,898.0 829.0,898.0 826.0,884.0 810.0,883.0 807.0,849.0 790.0,849.0 786.0,852.0 756.0,855.0 750.0,860.0 730.0,861.0 727.0,877.0 706.0,877.0 702.0,869.0 698.0,883.0 672.0,885.0 654.0,891.0 650.0,910.0 642.0,910.0 641.8,909.0 625.0,909.0 602.0,911.0 599.0,919.0 579.0,920.0 575.0,938.0 543.0,943.0 540.0,974.0 520.0,974.0 517.0,956.0 485.0,954.0 468.0,953.0 465.0,970.0 441.0,975.0"/>
<polygon points="210.0,882.0 213.0,879.4 231.0,879.4 243.0,888.0 248.0,895.0 257.0,898.0 267.0,909.0 271.0,915.0 291.0,915.0 297.0,914.0 305.0,916.0 310.0,923.0 333.0,922.0 363.0,919.0 367.0,910.0 371.0,895.0 377.0,873.0 397.0,872.0 402.0,848.0 422.6,847.4 425.0,875.0 427.0,905.0 431.0,935.0 435.0,971.0 440.0,972.0 458.6,968.0 458.6,1041.0 435.0,1041.0 427.0,1019.0 421.0,1005.0 413.0,981.0 409.0,957.0 395.0,955.0 391.0,935.0 389.0,909.0 385.0,923.0 381.0,934.0 361.0,934.0 333.0,936.0 317.0,935.0 301.0,934.0 298.0,944.0 277.0,944.0 275.0,929.0 255.0,929.0 249.0,919.0 245.0,915.0 231.0,914.0 227.0,911.0 217.0,901.0 210.0,890.0"/>
</g>
</g>
<text class="b" x="196" y="678.9" font-size="74" text-anchor="end">0.5</text>
<text class="b" x="196" y="911.0" font-size="74" text-anchor="end">0</text>
<text class="b" x="192.5" y="1145.5" font-size="74" text-anchor="end">−0.5</text>
<text class="b" font-size="78" dx="0 2.5 2.5 2 2 0 -1 1.5 -2.5 -3" transform="translate(85.2 1078.9) rotate(-90)">Error N[m]</text>
</g>
<g id="panel3">
<line x1="464.1" y1="1186.5" x2="464.1" y2="1648.8" stroke="#d9d9d9" stroke-width="9.5" stroke-dasharray="35.5 21.5" stroke-dashoffset="26.7"/><line x1="464.1" y1="1186.5" x2="464.1" y2="1648.8" stroke="#8a8a8a" stroke-width="3.4" stroke-dasharray="35.5 21.5" stroke-dashoffset="26.7"/>
<line x1="709.3" y1="1186.5" x2="709.3" y2="1648.8" stroke="#d9d9d9" stroke-width="9.5" stroke-dasharray="35.5 21.5" stroke-dashoffset="26.7"/><line x1="709.3" y1="1186.5" x2="709.3" y2="1648.8" stroke="#8a8a8a" stroke-width="3.4" stroke-dasharray="35.5 21.5" stroke-dashoffset="26.7"/>
<line x1="951.0" y1="1186.5" x2="951.0" y2="1648.8" stroke="#d9d9d9" stroke-width="9.5" stroke-dasharray="35.5 21.5" stroke-dashoffset="26.7"/><line x1="951.0" y1="1186.5" x2="951.0" y2="1648.8" stroke="#8a8a8a" stroke-width="3.4" stroke-dasharray="35.5 21.5" stroke-dashoffset="26.7"/>
<line x1="1196.6" y1="1186.5" x2="1196.6" y2="1648.8" stroke="#d9d9d9" stroke-width="9.5" stroke-dasharray="35.5 21.5" stroke-dashoffset="26.7"/><line x1="1196.6" y1="1186.5" x2="1196.6" y2="1648.8" stroke="#8a8a8a" stroke-width="3.4" stroke-dasharray="35.5 21.5" stroke-dashoffset="26.7"/>
<line x1="1438.4" y1="1186.5" x2="1438.4" y2="1648.8" stroke="#d9d9d9" stroke-width="9.5" stroke-dasharray="35.5 21.5" stroke-dashoffset="26.7"/><line x1="1438.4" y1="1186.5" x2="1438.4" y2="1648.8" stroke="#8a8a8a" stroke-width="3.4" stroke-dasharray="35.5 21.5" stroke-dashoffset="26.7"/>
<line x1="1684.0" y1="1186.5" x2="1684.0" y2="1648.8" stroke="#d9d9d9" stroke-width="9.5" stroke-dasharray="35.5 21.5" stroke-dashoffset="26.7"/><line x1="1684.0" y1="1186.5" x2="1684.0" y2="1648.8" stroke="#8a8a8a" stroke-width="3.4" stroke-dasharray="35.5 21.5" stroke-dashoffset="26.7"/>
<line x1="1925.6" y1="1186.5" x2="1925.6" y2="1648.8" stroke="#d9d9d9" stroke-width="9.5" stroke-dasharray="35.5 21.5" stroke-dashoffset="26.7"/><line x1="1925.6" y1="1186.5" x2="1925.6" y2="1648.8" stroke="#8a8a8a" stroke-width="3.4" stroke-dasharray="35.5 21.5" stroke-dashoffset="26.7"/>
<line x1="2171.1" y1="1186.5" x2="2171.1" y2="1648.8" stroke="#d9d9d9" stroke-width="9.5" stroke-dasharray="35.5 21.5" stroke-dashoffset="26.7"/><line x1="2171.1" y1="1186.5" x2="2171.1" y2="1648.8" stroke="#8a8a8a" stroke-width="3.4" stroke-dasharray="35.5 21.5" stroke-dashoffset="26.7"/>
<line x1="222.2" y1="1417.9" x2="2409.8" y2="1417.9" stroke="#d9d9d9" stroke-width="9.5" stroke-dasharray="35.5 21.5" stroke-dashoffset="12.2"/><line x1="222.2" y1="1417.9" x2="2409.8" y2="1417.9" stroke="#8a8a8a" stroke-width="3.4" stroke-dasharray="35.5 21.5" stroke-dashoffset="12.2"/>
<rect x="222.2" y="1186.5" width="2187.6" height="462.3" fill="none" stroke="#b0b0b0" stroke-width="10"/>
<path d="M464.1 1186.5L464.1 1210.5 M464.1 1648.8L464.1 1624.8 M709.3 1186.5L709.3 1210.5 M709.3 1648.8L709.3 1624.8 M951.0 1186.5L951.0 1210.5 M951.0 1648.8L951.0 1624.8 M1196.6 1186.5L1196.6 1210.5 M1196.6 1648.8L1196.6 1624.8 M1438.4 1186.5L1438.4 1210.5 M1438.4 1648.8L1438.4 1624.8 M1684.0 1186.5L1684.0 1210.5 M1684.0 1648.8L1684.0 1624.8 M1925.6 1186.5L1925.6 1210.5 M1925.6 1648.8L1925.6 1624.8 M2171.1 1186.5L2171.1 1210.5 M2171.1 1648.8L2171.1 1624.8 M222.2 1417.9L246.2 1417.9 M2409.8 1417.9L2385.8 1417.9" fill="none" stroke="#b0b0b0" stroke-width="9.5"/>
<path d="M464.1 1186.5L464.1 1210.5 M464.1 1648.8L464.1 1624.8 M709.3 1186.5L709.3 1210.5 M709.3 1648.8L709.3 1624.8 M951.0 1186.5L951.0 1210.5 M951.0 1648.8L951.0 1624.8 M1196.6 1186.5L1196.6 1210.5 M1196.6 1648.8L1196.6 1624.8 M1438.4 1186.5L1438.4 1210.5 M1438.4 1648.8L1438.4 1624.8 M1684.0 1186.5L1684.0 1210.5 M1684.0 1648.8L1684.0 1624.8 M1925.6 1186.5L1925.6 1210.5 M1925.6 1648.8L1925.6 1624.8 M2171.1 1186.5L2171.1 1210.5 M2171.1 1648.8L2171.1 1624.8 M222.2 1417.9L246.2 1417.9 M2409.8 1417.9L2385.8 1417.9" fill="none" stroke="#222222" stroke-width="3.6"/>
<rect x="222.2" y="1186.5" width="2187.6" height="462.3" fill="none" stroke="#222222" stroke-width="3.6"/>
<g class="data">
<g filter="url(#soft)" fill="#0084c9">
<polygon points="210.0,1395.0 214.0,1388.0 225.0,1387.0 227.0,1374.0 249.0,1373.0 253.0,1370.0 273.0,1370.0 275.0,1374.0 295.0,1374.0 299.0,1380.0 303.0,1388.0 329.0,1389.0 335.0,1399.0 343.0,1397.0 377.0,1398.0 379.0,1391.0 391.0,1391.0 393.0,1378.0 398.0,1373.0 431.0,1373.0 459.0,1385.0 463.0,1381.0 469.0,1380.0 473.0,1384.0 487.0,1385.0 491.0,1392.0 497.0,1398.0 505.0,1401.0 511.0,1396.0 533.0,1395.0 537.0,1399.0 551.0,1400.0 557.0,1402.0 585.0,1403.0 625.0,1403.0 629.0,1399.0 641.8,1398.0 642.0,1398.0 648.0,1399.0 654.0,1413.0 662.0,1414.0 668.0,1401.0 676.0,1396.0 700.0,1397.0 704.0,1386.0 722.0,1386.0 725.0,1380.0 743.0,1380.0 746.0,1391.0 751.0,1393.0 756.0,1403.0 766.0,1406.0 782.0,1414.0 798.0,1420.0 816.0,1421.0 822.0,1423.0 846.0,1427.0 856.0,1429.0 862.0,1434.0 870.0,1433.0 878.0,1427.0 898.0,1422.0 900.0,1422.6 934.3,1422.6 945.3,1426.7 959.1,1428.1 976.9,1424.0 996.2,1419.8 1045.6,1419.8 1064.8,1422.6 1078.6,1425.3 1092.3,1424.0 1114.3,1424.0 1122.5,1434.9 1136.3,1434.9 1140.4,1430.8 1161.0,1431.5 1188.5,1430.8 1200.0,1426.7 1207.0,1424.0 1243.0,1424.0 1249.0,1410.0 1271.0,1410.0 1275.0,1417.0 1319.0,1410.0 1335.0,1409.0 1339.0,1406.0 1367.0,1406.0 1369.0,1411.0 1385.0,1413.0 1389.0,1417.0 1395.0,1408.0 1399.0,1405.0 1415.0,1406.0 1419.0,1403.0 1447.0,1399.0 1451.0,1395.0 1452.0,1307.0 1475.0,1307.0 1476.0,1401.0 1479.0,1411.0 1485.0,1410.0 1507.0,1410.0 1511.0,1416.0 1515.8,1417.0 1516.0,1417.0 1528.0,1419.0 1534.0,1428.0 1562.0,1428.0 1566.0,1426.0 1584.0,1426.0 1588.0,1429.0 1596.0,1431.0 1600.0,1436.0 1606.0,1442.0 1612.0,1439.0 1628.0,1439.0 1634.0,1443.0 1636.0,1451.0 1644.0,1450.0 1656.0,1445.0 1672.0,1445.0 1676.0,1435.0 1700.0,1433.0 1704.0,1430.0 1722.0,1428.0 1728.0,1423.0 1736.0,1411.0 1756.0,1410.0 1762.0,1413.0 1782.0,1413.0 1786.0,1417.0 1796.0,1416.0 1804.0,1410.0 1812.0,1406.0 1836.0,1403.0 1856.0,1401.0 1866.0,1401.0 1888.0,1411.0 1904.0,1415.0 1908.0,1421.0 1952.8,1420.0 1953.0,1420.0 1967.0,1422.0 1972.0,1425.0 1983.0,1422.0 1993.0,1416.0 2033.0,1416.0 2039.0,1418.0 2065.0,1418.0 2069.0,1427.0 2087.0,1429.0 2093.0,1435.0 2139.0,1435.0 2153.0,1439.0 2173.0,1437.0 2181.0,1434.0 2203.0,1432.0 2253.0,1431.0 2261.0,1428.0 2271.0,1427.0 2331.0,1443.0 2337.0,1441.0 2373.0,1441.0 2389.8,1442.0 2390.0,1441.0 2393.0,1437.0 2421.5,1437.0 2421.5,1451.0 2395.0,1451.0 2390.0,1454.0 2389.8,1452.0 2373.0,1451.0 2353.0,1451.0 2345.0,1455.0 2331.0,1457.0 2311.0,1445.0 2309.0,1460.0 2305.0,1461.0 2303.0,1437.0 2271.0,1437.0 2261.0,1447.0 2249.0,1445.0 2233.0,1441.0 2203.0,1441.0 2193.0,1444.0 2183.0,1449.0 2153.0,1453.0 2123.0,1451.0 2093.0,1451.0 2085.0,1447.0 2073.0,1446.0 2067.0,1441.0 2063.0,1431.0 2043.0,1432.0 2039.0,1431.0 2027.0,1430.0 2021.0,1428.0 2013.0,1425.0 1999.0,1429.0 1989.0,1434.0 1965.0,1435.0 1953.0,1430.0 1952.8,1430.0 1908.0,1434.0 1902.0,1433.0 1888.0,1429.0 1885.0,1405.0 1866.0,1405.0 1856.0,1411.0 1848.0,1414.0 1828.0,1417.0 1804.0,1422.0 1796.0,1427.0 1773.0,1430.0 1770.0,1424.0 1746.0,1424.0 1736.0,1433.0 1732.0,1442.0 1702.0,1444.0 1700.0,1434.0 1676.0,1437.0 1672.0,1459.0 1652.0,1461.0 1636.0,1464.0 1632.0,1451.0 1612.0,1451.0 1608.0,1461.0 1602.0,1455.0 1596.0,1445.0 1576.0,1444.0 1548.0,1441.0 1534.0,1444.0 1528.0,1437.0 1516.0,1434.0 1515.8,1433.0 1483.0,1429.0 1479.0,1417.0 1473.0,1409.0 1453.0,1410.0 1449.0,1422.0 1419.0,1422.0 1391.0,1423.0 1363.0,1423.0 1349.0,1420.0 1343.0,1417.0 1337.0,1423.0 1319.0,1426.0 1275.0,1426.0 1247.0,1427.0 1241.0,1439.0 1237.0,1437.0 1219.0,1435.0 1209.0,1437.0 1205.0,1442.0 1200.0,1443.9 1139.0,1444.6 1136.3,1451.4 1119.8,1451.4 1114.3,1448.7 1092.3,1447.3 1084.1,1447.3 1078.6,1444.6 1064.8,1437.7 1044.2,1434.3 1016.8,1432.2 996.2,1430.1 979.7,1434.9 974.2,1440.4 952.2,1441.8 927.5,1436.3 917.9,1430.8 913.7,1432.2 908.2,1439.1 900.0,1440.4 886.0,1445.0 874.0,1444.0 850.0,1440.0 846.0,1427.0 809.0,1425.0 806.0,1434.0 782.0,1432.0 766.0,1427.0 756.0,1420.0 750.0,1411.0 730.0,1410.0 726.0,1405.0 704.0,1406.0 700.0,1414.0 677.0,1411.0 668.0,1420.0 660.0,1431.0 654.0,1432.0 642.0,1423.0 641.8,1422.0 623.0,1422.0 617.0,1418.0 601.0,1418.0 597.0,1423.0 581.0,1424.0 568.0,1420.0 565.0,1405.0 541.0,1405.0 537.0,1410.0 533.0,1406.0 509.0,1409.0 505.0,1417.0 493.0,1411.0 485.0,1405.0 459.0,1405.0 398.0,1405.0 391.0,1406.0 381.0,1407.0 377.0,1418.0 371.0,1420.0 365.0,1412.0 335.0,1410.0 325.0,1409.0 303.0,1405.0 293.0,1391.0 229.0,1391.0 225.0,1401.0 210.0,1402.0"/>
</g>
<g filter="url(#soft)" fill="#ff0d3a">
<polygon points="210.0,1417.0 214.0,1408.0 225.0,1401.0 229.0,1388.0 251.0,1385.0 257.0,1389.0 293.0,1388.0 299.0,1397.0 303.0,1403.0 325.0,1407.0 333.0,1411.0 365.0,1414.0 371.0,1420.0 377.0,1417.0 381.0,1405.0 391.0,1404.0 395.0,1383.0 398.0,1367.0 411.0,1367.0 414.0,1339.0 423.0,1305.0 431.0,1265.0 434.0,1248.0 455.0,1247.0 458.0,1285.0 459.0,1395.0 485.0,1395.0 489.0,1401.0 493.0,1409.0 505.0,1415.0 509.0,1405.0 533.0,1404.0 537.0,1408.0 541.0,1402.0 565.0,1402.0 568.0,1419.0 581.0,1423.0 597.0,1422.0 601.0,1416.0 617.0,1416.0 623.0,1420.0 641.8,1420.0 642.0,1420.0 648.0,1425.0 654.0,1432.0 660.0,1431.0 668.0,1420.0 675.0,1411.0 677.0,1399.0 696.0,1398.0 700.0,1414.0 704.0,1406.0 726.0,1405.0 730.0,1410.0 750.0,1411.0 756.0,1420.0 766.0,1427.0 782.0,1432.0 806.0,1435.0 809.0,1423.0 846.0,1426.0 850.0,1439.0 856.0,1442.0 874.0,1444.0 900.0,1444.6 920.6,1444.6 954.9,1444.6 996.2,1443.9 1037.4,1444.6 1064.8,1448.7 1078.6,1450.1 1090.9,1451.4 1092.3,1441.1 1112.9,1441.1 1114.3,1452.8 1133.5,1452.8 1139.0,1444.6 1200.0,1443.9 1205.0,1442.0 1209.0,1437.0 1219.0,1435.0 1237.0,1437.0 1241.0,1439.0 1247.0,1427.0 1275.0,1426.0 1278.0,1392.0 1304.0,1391.0 1308.0,1399.0 1316.0,1406.0 1319.0,1426.0 1331.0,1429.0 1359.0,1425.0 1391.0,1425.0 1419.0,1423.0 1422.0,1385.0 1424.0,1367.0 1447.0,1366.0 1449.0,1423.0 1453.0,1410.0 1473.0,1409.0 1479.0,1417.0 1483.0,1429.0 1507.0,1429.0 1515.8,1433.0 1516.0,1434.0 1528.0,1437.0 1534.0,1444.0 1548.0,1441.0 1576.0,1444.0 1596.0,1445.0 1602.0,1455.0 1608.0,1461.0 1612.0,1451.0 1632.0,1451.0 1636.0,1464.0 1652.0,1461.0 1672.0,1459.0 1676.0,1435.0 1680.0,1433.0 1700.0,1433.0 1702.0,1444.0 1732.0,1442.0 1736.0,1433.0 1746.0,1424.0 1770.0,1424.0 1773.0,1436.0 1792.0,1437.0 1804.0,1433.0 1820.0,1428.0 1836.0,1424.0 1848.0,1417.0 1856.0,1411.0 1866.0,1405.0 1885.0,1405.0 1888.0,1429.0 1902.0,1434.0 1908.0,1440.0 1936.0,1442.0 1952.8,1439.0 1953.0,1439.0 1973.0,1440.0 1999.0,1438.0 2013.0,1435.0 2021.0,1439.0 2037.0,1440.0 2043.0,1432.0 2063.0,1431.0 2067.0,1441.0 2073.0,1446.0 2085.0,1447.0 2093.0,1453.0 2123.0,1453.0 2153.0,1454.0 2183.0,1453.0 2213.0,1451.0 2253.0,1451.0 2265.0,1445.0 2271.0,1437.0 2273.0,1410.0 2286.0,1409.0 2289.0,1381.0 2311.0,1380.0 2315.0,1401.0 2319.0,1405.0 2323.0,1416.0 2329.0,1419.0 2331.0,1457.0 2353.0,1458.0 2373.0,1461.0 2389.8,1462.0 2390.0,1458.0 2400.0,1456.0 2421.5,1456.5 2421.5,1468.0 2405.0,1470.0 2390.0,1471.0 2389.8,1473.0 2369.0,1473.0 2363.0,1470.0 2345.0,1470.0 2341.0,1478.0 2317.0,1478.0 2311.0,1469.0 2309.0,1460.0 2303.0,1461.0 2278.0,1461.0 2273.0,1466.0 2261.0,1467.0 2249.0,1465.0 2245.0,1468.0 2223.0,1468.0 2219.0,1465.0 2169.0,1468.0 2163.0,1474.0 2143.0,1475.0 2137.0,1472.0 2123.0,1471.0 2119.0,1475.0 2101.0,1474.0 2089.0,1469.0 2081.0,1464.0 2053.0,1464.0 2051.0,1454.0 2033.0,1453.0 2013.0,1451.0 2005.0,1455.0 1977.0,1458.0 1953.0,1457.0 1952.8,1454.0 1916.0,1453.0 1895.0,1453.0 1892.0,1457.0 1872.0,1457.0 1870.0,1450.0 1850.0,1450.0 1848.0,1433.0 1840.0,1438.0 1828.0,1442.0 1812.0,1445.0 1804.0,1450.0 1776.0,1449.0 1772.0,1454.0 1754.0,1454.0 1752.0,1447.0 1744.0,1449.0 1738.0,1456.0 1724.0,1457.0 1716.0,1460.0 1692.0,1461.0 1688.0,1478.0 1660.0,1478.0 1652.0,1482.0 1628.0,1483.0 1622.0,1478.0 1616.0,1473.0 1608.0,1474.0 1605.0,1507.0 1585.0,1507.0 1584.0,1468.0 1578.0,1466.0 1576.0,1459.0 1550.0,1457.0 1542.0,1462.0 1516.0,1460.0 1515.8,1447.0 1491.0,1446.0 1479.0,1444.0 1470.0,1444.0 1468.0,1461.0 1464.0,1475.0 1441.0,1475.0 1438.0,1449.0 1436.0,1439.0 1429.0,1442.0 1406.0,1443.0 1404.0,1461.0 1370.0,1461.0 1367.0,1437.0 1355.0,1439.0 1339.0,1440.0 1315.0,1441.0 1302.0,1439.0 1299.0,1425.0 1297.0,1417.0 1295.0,1425.0 1291.0,1439.0 1283.0,1444.0 1279.0,1449.0 1267.0,1449.0 1261.0,1452.0 1258.0,1470.0 1239.0,1469.0 1237.0,1461.0 1219.0,1460.0 1215.0,1457.0 1209.0,1455.0 1203.0,1459.0 1200.0,1462.4 1194.0,1465.2 1174.7,1463.8 1165.1,1461.0 1161.0,1470.0 1133.5,1470.7 1130.8,1474.8 1106.0,1474.8 1103.3,1469.3 1092.3,1467.9 1071.7,1466.5 1064.8,1462.4 1037.4,1460.4 996.2,1459.7 976.9,1463.8 974.2,1470.7 950.8,1469.3 945.3,1461.0 927.5,1460.4 911.0,1459.7 906.9,1465.2 900.0,1467.9 868.0,1469.0 862.0,1467.0 849.0,1467.0 847.0,1479.0 843.0,1486.0 821.0,1486.0 818.0,1458.0 802.0,1458.0 790.0,1453.0 770.0,1449.0 762.0,1443.0 750.0,1438.0 746.0,1434.0 721.0,1435.0 719.0,1486.0 697.0,1486.0 694.0,1465.0 685.0,1459.0 682.0,1441.0 678.0,1446.0 642.0,1447.0 641.8,1447.0 635.0,1447.0 633.0,1442.0 625.0,1442.0 621.0,1446.0 597.0,1446.0 590.0,1440.0 585.0,1444.0 574.0,1445.0 572.0,1457.0 552.0,1457.0 551.0,1433.0 545.0,1427.0 535.0,1424.0 533.0,1417.0 529.0,1417.0 523.0,1429.0 511.0,1429.0 507.0,1434.0 487.0,1433.0 481.0,1420.0 471.0,1418.0 463.0,1422.0 441.0,1422.0 436.2,1425.6 435.4,1401.0 434.6,1343.4 433.4,1343.4 432.2,1365.0 431.4,1401.0 430.6,1425.6 428.6,1431.0 426.0,1441.0 405.0,1441.0 403.0,1425.0 399.0,1424.0 395.0,1429.0 391.0,1443.0 371.0,1443.0 365.0,1436.0 349.0,1431.0 333.0,1429.0 325.0,1425.0 303.0,1420.0 285.0,1415.0 273.0,1406.0 247.0,1406.0 243.0,1410.0 235.0,1420.0 233.0,1433.0 210.0,1433.0"/>
</g>
<polygon points="430.4,1402.0 431.0,1365.0 433.4,1345.0 435.0,1345.0 436.6,1402.0" fill="#0084c9"/>
<polygon points="2303.4,1427.0 2307.4,1427.0 2308.6,1461.0 2304.0,1461.0" fill="#0084c9"/>
</g>
<text class="b" x="196" y="1212.7" font-size="74" text-anchor="end">0.5</text>
<text class="b" x="196" y="1444.7" font-size="74" text-anchor="end">0</text>
<text class="b" x="192.5" y="1679.0" font-size="74" text-anchor="end">−0.5</text>
<text class="b" font-size="78" dx="0 2.5 2.5 2 2 0 -1 1.5 -2.5 -3" transform="translate(85.2 1612.4) rotate(-90)">Error U[m]</text>
</g>
<g id="xlabels">
<text class="b" x="220.2" y="1743.5" font-size="72.5" text-anchor="middle">0</text>
<text class="b" x="465.7" y="1743.5" font-size="72.5" text-anchor="middle">100</text>
<text class="b" x="707.8" y="1743.5" font-size="72.5" text-anchor="middle">200</text>
<text class="b" x="951.5" y="1743.5" font-size="72.5" text-anchor="middle">300</text>
<text class="b" x="1195.6" y="1743.5" font-size="72.5" text-anchor="middle">400</text>
<text class="b" x="1440.7" y="1743.5" font-size="72.5" text-anchor="middle">500</text>
<text class="b" x="1682.5" y="1743.5" font-size="72.5" text-anchor="middle">600</text>
<text class="b" x="1926.9" y="1743.5" font-size="72.5" text-anchor="middle">700</text>
<text class="b" x="2170.1" y="1743.5" font-size="72.5" text-anchor="middle">800</text>
<text class="b" x="1314.5" y="1840" font-size="79.5" text-anchor="middle">Time (sec)</text>
</g>
<g id="legend">
<rect x="964.5" y="40" width="180" height="22.5" fill="#0084c9"/>
<text x="1159" y="78.3" font-size="72" style="fill:#000">PPP</text>
<rect x="1312.5" y="40" width="181" height="22.5" fill="#ff0d3a"/>
<text x="1504" y="78.3" font-size="72" letter-spacing="-0.8" style="fill:#000">LIOP</text>
</g>
</svg></body></html>
